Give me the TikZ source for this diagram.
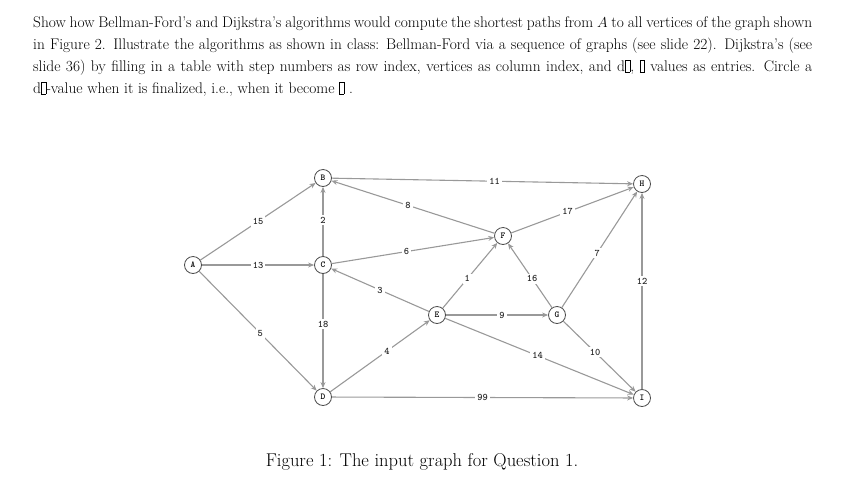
\documentclass[tikz,border=0pt]{standalone}
\usetikzlibrary{arrows.meta}
\newcommand{\eb}{\fbox{\rule{0pt}{10pt}\hspace{3pt}}}
\begin{document}
\begin{tikzpicture}[x=1pt,y=-1pt,
  vtx/.style={circle,draw=black!70,fill=white,line width=0.8pt,inner sep=0pt,minimum size=17pt,font=\ttfamily\bfseries\fontsize{9}{10}\selectfont},
  edge/.style={draw=black!40,line width=1.1pt,-{Stealth[length=6pt,width=5pt]}},
  wl/.style={fill=white,inner sep=2pt,font=\ttfamily\bfseries\fontsize{10}{11}\selectfont,text=black!85}]
\useasboundingbox (0,0) rectangle (845,488);
\node[anchor=north west,inner sep=0pt,text width=779pt,align=justify,font=\fontsize{15.4}{22}\selectfont\setlength{\fboxsep}{0.6pt}\setlength{\fboxrule}{0.5pt}] (txt) at (33,16)
{Show how Bellman-Ford's and Dijkstra's algorithms would compute the shortest paths from $A$ to all vertices of the graph shown in Figure 2. Illustrate the algorithms as shown in class: Bellman-Ford via a sequence of graphs (see slide 22). Dijkstra's (see slide 36) by filling in a table with step numbers as row index, vertices as column index, and d\eb, \eb{} values as entries. Circle a d\eb-value when it is finalized, i.e., when it become \eb{} .};
\node[vtx] (A) at (193,265) {A};
\node[vtx] (B) at (323,178) {B};
\node[vtx] (C) at (323,265) {C};
\node[vtx] (D) at (323,397) {D};
\node[vtx] (E) at (437,315) {E};
\node[vtx] (F) at (503,236) {F};
\node[vtx] (G) at (557,315) {G};
\node[vtx] (H) at (642,184) {H};
\node[vtx] (I) at (642,398) {I};
\path[edge] (A) -- node[wl,pos=0.5]{15} (B);
\path[edge] (A) -- node[wl,pos=0.5]{13} (C);
\path[edge] (A) -- node[wl,pos=0.52]{5} (D);
\path[edge] (C) -- node[wl,pos=0.52]{2} (B);
\path[edge] (C) -- node[wl,pos=0.44]{18} (D);
\path[edge] (B) -- node[wl,pos=0.54]{11} (H);
\path[edge] (F) -- node[wl,pos=0.53]{8} (B);
\path[edge] (C) -- node[wl,pos=0.46]{6} (F);
\path[edge] (E) -- node[wl,pos=0.5]{3} (C);
\path[edge] (E) -- node[wl,pos=0.45]{1} (F);
\path[edge] (D) -- node[wl,pos=0.57]{4} (E);
\path[edge] (E) -- node[wl,pos=0.55]{9} (G);
\path[edge] (G) -- node[wl,pos=0.45]{16} (F);
\path[edge] (F) -- node[wl,pos=0.46]{17} (H);
\path[edge] (G) -- node[wl,pos=0.47]{7} (H);
\path[edge] (E) -- node[wl,pos=0.49]{14} (I);
\path[edge] (G) -- node[wl,pos=0.44]{10} (I);
\path[edge] (I) -- node[wl,pos=0.55]{12} (H);
\path[edge] (D) -- node[wl,pos=0.5]{99} (I);
\node[font=\fontsize{18.5}{20}\selectfont] (cap) at (422,462) {Figure 1: The input graph for Question 1.};
\end{tikzpicture}
\end{document}
